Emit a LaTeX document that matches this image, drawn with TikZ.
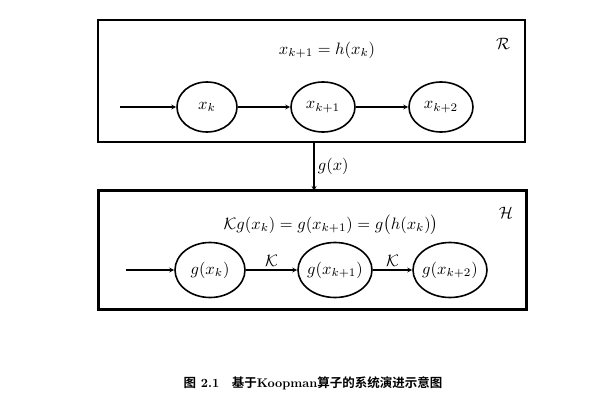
\documentclass[tikz,border=0pt]{standalone}
\usepackage{fontspec}
\usetikzlibrary{shapes.geometric}
\newfontfamily\cjk{Noto Sans CJK SC}[BoldFont={Noto Sans CJK SC Bold}]
\newcommand{\Tm}[1]{\scalebox{1.65}{$#1$}}
\begin{document}
\begin{tikzpicture}[x=1pt,y=-1pt,
  st/.style={draw,ellipse,line width=1.6pt,inner sep=0pt},
  arr/.style={-stealth,line width=1.2pt}]
\useasboundingbox (0,0) rectangle (600,409);
\draw[line width=1.5pt] (98,20) rectangle (525,142);
\draw[line width=3pt] (98,191) rectangle (526,309);
\node (f1) at (327,50) {\Tm{x_{k+1}=h(x_k)}};
\node (R) at (503,44) {\Tm{\mathcal{R}}};
\node[st,minimum width=60,minimum height=50] (a1) at (207,107) {\Tm{x_k}};
\node[st,minimum width=64,minimum height=50] (a2) at (323,107) {\Tm{x_{k+1}}};
\node[st,minimum width=64,minimum height=50] (a3) at (441,107) {\Tm{x_{k+2}}};
\coordinate (s1) at (120,107);
\draw[arr] (s1) -- (a1);
\draw[arr] (a1) -- (a2);
\draw[arr] (a2) -- (a3);
\coordinate (t) at (314,142);
\coordinate (b) at (314,191);
\draw[arr] (t) -- node[right]{\Tm{g(x)}} (b);
\node (f2) at (331,225) {\Tm{\mathcal{K}g(x_k)=g(x_{k+1})=g\bigl(h(x_k)\bigr)}};
\node (H) at (506,213) {\Tm{\mathcal{H}}};
\node[st,minimum width=70,minimum height=55,inner sep=-2pt] (b1) at (210,270) {\Tm{g(x_k)}};
\node[st,minimum width=74,minimum height=55,inner sep=-4pt] (b2) at (335,270) {\Tm{g(x_{k+1})}};
\node[st,minimum width=74,minimum height=55,inner sep=-4pt] (b3) at (450,270) {\Tm{g(x_{k+2})}};
\coordinate (s2) at (126,270);
\draw[arr] (s2) -- (b1);
\draw[arr] (b1) -- node[above]{\Tm{\mathcal{K}}} (b2);
\draw[arr] (b2) -- node[above]{\Tm{\mathcal{K}}} (b3);
\node (cap) at (313,383) {\scalebox{1.25}{\bfseries{\cjk\bfseries 图}\ 2.1\quad{\cjk\bfseries 基于}Koopman{\cjk\bfseries 算子的系统演进示意图}}};
\end{tikzpicture}
\end{document}
